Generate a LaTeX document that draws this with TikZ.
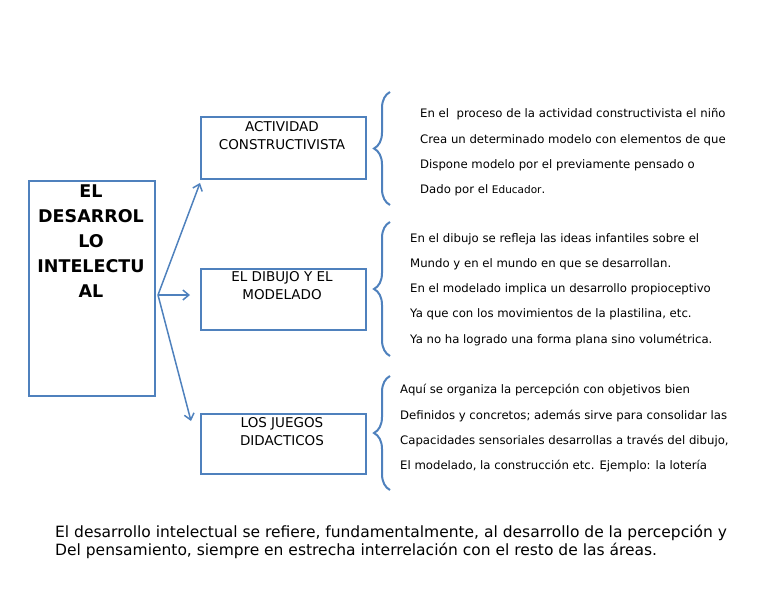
\documentclass[tikz,border=0pt]{standalone}
\usepackage{fontspec}
\setmainfont{DejaVu Sans}
\usetikzlibrary{decorations.pathreplacing,arrows.meta}
\definecolor{bl}{HTML}{4F81BD}
\begin{document}
\begin{tikzpicture}[x=1pt,y=-1pt,
 bx/.style={draw=bl,line width=2pt,anchor=north west,inner sep=0},
 ar/.style={draw=bl,line width=1.5pt,-{Straight Barb[length=6pt,width=10pt]}},
 br/.style={draw=bl,line width=2pt,decorate,decoration={brace,amplitude=16pt,mirror}},
 tx/.style={anchor=base west,font=\fontsize{11.7}{13}\selectfont,inner sep=0}]
\useasboundingbox (0,0) rectangle (768,594);
\node[bx,minimum width=126pt,minimum height=215pt] (main) at (28,180) {};
\node[font=\bfseries\fontsize{17.5}{25}\selectfont,align=center,anchor=north] (mt) at (91,181) {EL\\DESARROL\\LO\\INTELECTU\\AL};
\node[bx,minimum width=165pt,minimum height=62pt] (b1) at (200,116) {};
\node[bx,minimum width=165pt,minimum height=61pt] (b2) at (200,268) {};
\node[bx,minimum width=165pt,minimum height=60pt] (b3) at (200,413) {};
\node[font=\fontsize{13.5}{18}\selectfont,align=center,anchor=north] at (282,118) {ACTIVIDAD\\CONSTRUCTIVISTA};
\node[font=\fontsize{13.5}{18}\selectfont,align=center,anchor=north] at (282,268) {EL DIBUJO Y EL\\MODELADO};
\node[font=\fontsize{13.5}{18}\selectfont,align=center,anchor=north] at (282,414) {LOS JUEGOS\\DIDACTICOS};
\coordinate (o) at (158,295);
\draw[ar] (o) -- (200,183);
\draw[ar] (o) -- (190,295);
\draw[ar] (o) -- (191,421);
\coordinate (t1) at (390,92); \coordinate (u1) at (390,205);
\coordinate (t2) at (390,222); \coordinate (u2) at (390,356);
\coordinate (t3) at (390,376); \coordinate (u3) at (390,490);
\draw[br] (t1) -- (u1);
\draw[br] (t2) -- (u2);
\draw[br] (t3) -- (u3);
\node[tx] at (420,117) {En el\ \ proceso de la actividad constructivista el niño};
\node[tx] at (420,143) {Crea un determinado modelo con elementos de que};
\node[tx] at (420,168) {Dispone modelo por el previamente pensado o};
\node[tx] at (420,193) {Dado por el {\fontsize{10.5}{11}\selectfont Educador}.};
\node[tx] at (410,242) {En el dibujo se refleja las ideas infantiles sobre el};
\node[tx] at (410,267) {Mundo y en el mundo en que se desarrollan.};
\node[tx] at (410,292) {En el modelado implica un desarrollo propioceptivo};
\node[tx] at (410,317) {Ya que con los movimientos de la plastilina, etc.};
\node[tx] at (410,343) {Ya no ha logrado una forma plana sino volumétrica.};
\node[tx] at (400,393) {Aquí se organiza la percepción con objetivos bien};
\node[tx] at (400,419) {Definidos y concretos; además sirve para consolidar las};
\node[tx] at (400,444) {Capacidades sensoriales desarrollas a través del dibujo,};
\node[tx] at (400,469) {El modelado, la construcción etc. Ejemplo: la lotería};
\node[anchor=base west,inner sep=0,font=\fontsize{15.5}{18}\selectfont] at (55,537) {El desarrollo intelectual se refiere, fundamentalmente, al desarrollo de la percepción y};
\node[anchor=base west,inner sep=0,font=\fontsize{15.5}{18}\selectfont] at (55,555) {Del pensamiento, siempre en estrecha interrelación con el resto de las áreas.};
\end{tikzpicture}
\end{document}
